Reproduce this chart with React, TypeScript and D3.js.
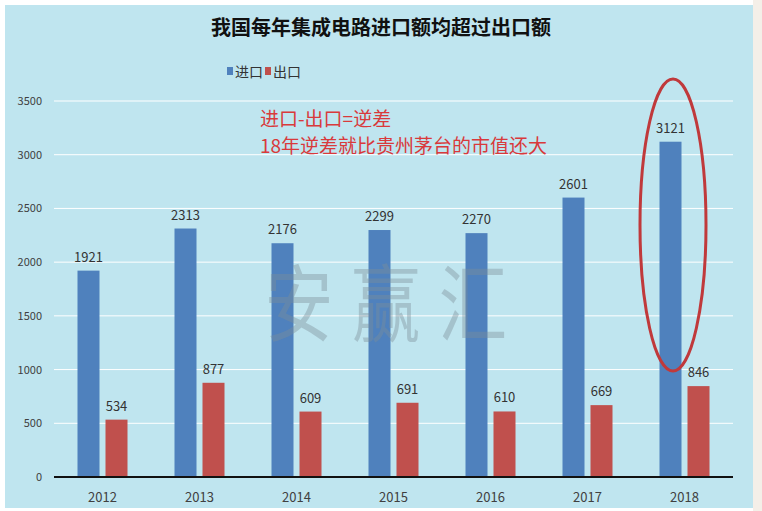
import React from "react";
import * as d3 from "d3";

const years = ["2012", "2013", "2014", "2015", "2016", "2017", "2018"];
const imports = [1921, 2313, 2176, 2299, 2270, 2601, 3121];
const exportsV = [534, 877, 609, 691, 610, 669, 846];
const yTicks = [0, 500, 1000, 1500, 2000, 2500, 3000, 3500];
const seriesNames = ["进口", "出口"];
const title = "我国每年集成电路进口额均超过出口额";
const noteLines = ["进口-出口=逆差", "18年逆差就比贵州茅台的市值还大"];
const watermark = ["安", "赢", "汇"];

const W = 762, H = 511;
const BLUE = "#4f81bd", RED = "#c0504d";

export default function App() {
  const x = d3.scaleBand().domain(years).range([54, 733]).paddingInner(0).paddingOuter(0);
  const y = d3.scaleLinear().domain([0, 3500]).range([477, 101]);
  const barW = 22, gap = 6;
  const font = "'Noto Sans CJK SC', 'DejaVu Sans', sans-serif";
  const cx2018 = (x("2018") as number) + x.bandwidth() / 2 - 12;
  return (
    <svg width={W} height={H} style={{ position: "absolute", left: 0, top: 0 }}>
      <rect x={0} y={0} width={W} height={H} fill="#ffffff" />
      <rect x={753} y={0} width={9} height={H} fill="#f4efe8" />
      <rect x={5} y={5} width={748} height={503} fill="#bfe5ef" />
      <text x={381} y={35} textAnchor="middle" fontFamily="'Noto Sans CJK SC', serif" fontWeight="bold" fontSize={20} fill="#111">{title}</text>
      {seriesNames.map((s, i) => (
        <g key={s}>
          <rect x={227 + i * 38} y={67} width={6} height={8} fill={i === 0 ? BLUE : RED} />
          <text x={235 + i * 38} y={77} fontFamily={font} fontSize={14} fill="#333">{s}</text>
        </g>
      ))}
      {yTicks.map((t) => (
        <g key={t}>
          {t > 0 && <line x1={54} x2={733} y1={y(t)} y2={y(t)} stroke="#ffffff" strokeWidth={1} />}
          <text x={42} y={y(t) + 4} textAnchor="end" fontFamily={font} fontSize={11} fill="#404040">{t}</text>
        </g>
      ))}
      {years.map((yr, i) => {
        const c = (x(yr) as number) + x.bandwidth() / 2;
        const bx = c - gap / 2 - barW;
        const rx = c + gap / 2;
        return (
          <g key={yr}>
            <rect x={bx} y={y(imports[i])} width={barW} height={y(0) - y(imports[i])} fill={BLUE} />
            <rect x={rx} y={y(exportsV[i])} width={barW} height={y(0) - y(exportsV[i])} fill={RED} />
            <text x={bx + barW / 2} y={y(imports[i]) - 9} textAnchor="middle" fontFamily={font} fontSize={13} fill="#333">{imports[i]}</text>
            <text x={rx + barW / 2} y={y(exportsV[i]) - 9} textAnchor="middle" fontFamily={font} fontSize={13} fill="#333">{exportsV[i]}</text>
            <text x={c} y={502} textAnchor="middle" fontFamily={font} fontSize={13} fill="#404040">{yr}</text>
          </g>
        );
      })}
      <g>
        {watermark.map((c, i) => (
          <text key={c} transform={`translate(${299 + i * 87},335) scale(0.82,1)`} textAnchor="middle" fontFamily={font} fontSize={84} fill="#7d8e98" fillOpacity={0.4}>{c}</text>
        ))}
      </g>
      <line x1={54} x2={733} y1={y(0)} y2={y(0)} stroke="#111" strokeWidth={2} />
      {noteLines.map((l, i) => (
        <text key={i} x={260} y={126 + i * 27} fontFamily={font} fontSize={19} fill="#d9393b">{l}</text>
      ))}
      <ellipse cx={cx2018 + 0.5} cy={225} rx={33} ry={146} fill="none" stroke="#c0393b" strokeWidth={3} />
    </svg>
  );
}
